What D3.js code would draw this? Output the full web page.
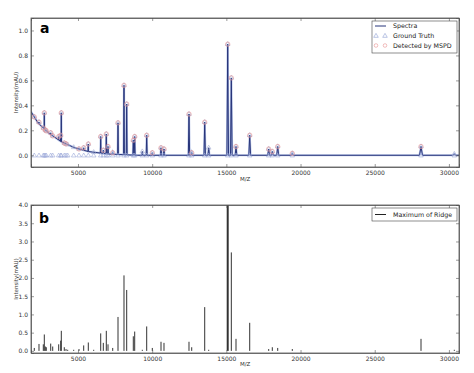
<!DOCTYPE html>
<html>
<head>
<meta charset="utf-8">
<script src="https://cdn.jsdelivr.net/npm/d3@7"></script>
<style>
  body { margin: 0; background: #fff; }
  svg text { font-family: "DejaVu Sans", sans-serif; }
</style>
</head>
<body>
<div id="chart"></div>
<script>
// peak positions (m/z)
let peakMz = [2055, 2372, 2662, 2730, 2797, 2864, 3161, 3296, 3700, 3835, 3875, 4077, 4192, 4306,
    4711, 5068, 5385, 5695, 6059, 6531, 6706, 6908, 7023, 7340, 7697, 8101, 8283, 8728, 8822,
    9335, 9631, 10009, 10595, 10797, 12482, 12665, 13541, 13810, 15091, 15334, 15650, 16574,
    17854, 18097, 18461, 19445, 28119, 30364];
// top of each peak in the spectrum, panel a (absolute intensity)
let peakTop = [0.29, 0.265, 0.2, 0.34, 0.2, 0.18, 0.18, 0.14, 0.15, 0.16, 0.34, 0.07, 0.05, 0.04,
    0.03, 0.04, 0.06, 0.09, 0.02, 0.15, 0.04, 0.17, 0.07, 0.02, 0.26, 0.56, 0.41, 0.12, 0.15,
    0.03, 0.16, 0.02, 0.06, 0.05, 0.33, 0.02, 0.265, 0.06, 0.89, 0.62, 0.07, 0.16,
    0.05, 0.03, 0.07, 0.015, 0.07, 0.01];
// maximum of ridge, panel b
let ridgeMax = [0.08, 0.19, 0.18, 0.45, 0.12, 0.10, 0.20, 0.12, 0.18, 0.28, 0.55, 0.10, 0.05, 0.03,
    0.03, 0.05, 0.15, 0.23, 0.03, 0.48, 0.22, 0.55, 0.18, 0.08, 0.93, 2.07, 1.67, 0.40, 0.53,
    0.03, 0.67, 0.08, 0.25, 0.22, 0.25, 0.10, 1.20, 0.03, 4.0, 2.70, 0.33, 0.77,
    0.05, 0.10, 0.08, 0.05, 0.33, 0.03];
// decaying baseline of the spectrum
let baseMz = [1833, 2300, 3000, 3850, 4780, 5700, 7000, 9000, 30700];
let baseVal = [0.35, 0.26, 0.18, 0.11, 0.06, 0.03, 0.01, 0, 0];

let xTicks = [5000, 10000, 15000, 20000, 25000, 30000];
let yTicksA = [0.0, 0.2, 0.4, 0.6, 0.8, 1.0];
let yTicksB = [0.0, 0.5, 1.0, 1.5, 2.0, 2.5, 3.0, 3.5, 4.0];

let svgWidth = 474, svgHeight = 373;
let left = 31, right = 459;

let svg = d3.select("#chart").append("svg")
    .attr("width", svgWidth)
    .attr("height", svgHeight);

let x = d3.scaleLinear().domain([1833, 30680]).range([left, right]);
let baseAt = d3.scaleLinear().domain(baseMz).range(baseVal).clamp(true);

function drawFrame(y, top, bottom, yTicks, mzY) {
    let g = svg.append("g");
    g.append("g").attr("transform", `translate(0,${bottom})`)
        .call(d3.axisBottom(x).tickValues(xTicks).tickSize(-3).tickPadding(4).tickFormat(d3.format("d")));
    g.append("g").attr("transform", `translate(0,${top})`)
        .call(d3.axisTop(x).tickValues(xTicks).tickSize(-3).tickFormat(""));
    g.append("g").attr("transform", `translate(${left},0)`)
        .call(d3.axisLeft(y).tickValues(yTicks).tickSize(-3).tickPadding(3).tickFormat(d3.format(".1f")));
    g.append("g").attr("transform", `translate(${right},0)`)
        .call(d3.axisRight(y).tickValues(yTicks).tickSize(-3).tickFormat(""));
    g.selectAll(".domain").attr("stroke", "#555").attr("stroke-width", 0.8);
    g.selectAll(".tick line").attr("stroke", "#555").attr("stroke-width", 0.6);
    g.selectAll(".tick text").attr("font-size", 6).attr("fill", "#333");
    g.append("rect").attr("x", left).attr("y", top).attr("width", right - left).attr("height", bottom - top)
        .attr("fill", "none").attr("stroke", "#555").attr("stroke-width", 0.8);
    g.append("text").attr("x", 240).attr("y", mzY).attr("font-size", 5.5).attr("fill", "#333").text("M/Z");
    g.append("text")
        .attr("transform", `translate(18,${(top + bottom) / 2}) rotate(-90)`)
        .attr("text-anchor", "middle").attr("font-size", 5.5).attr("fill", "#333")
        .text("Intensity(mAU)");
    return g;
}

// ---- panel a
let topA = 18, bottomA = 167;
let yA = d3.scaleLinear().domain([-0.094, 1.1]).range([bottomA, topA]);

// spectrum points: baseline knots plus a narrow triangle for each peak
let spec = baseMz.map((m, i) => [m, baseVal[i]]);
peakMz.forEach((m, i) => {
    let w = m * 0.0035;
    spec.push([m - w, baseAt(m - w)]);
    spec.push([m, Math.max(peakTop[i], baseAt(m))]);
    spec.push([m + w, baseAt(m + w)]);
});
spec.sort((a, b) => a[0] - b[0]);

svg.append("clipPath").attr("id", "clipA").append("rect")
    .attr("x", left).attr("y", topA).attr("width", right - left).attr("height", bottomA - topA);

let plotA = svg.append("g").attr("clip-path", "url(#clipA)");
let specLine = d3.line().x(d => x(d[0])).y(d => yA(d[1]));
plotA.append("path").datum(spec)
    .attr("d", specLine)
    .attr("fill", "none").attr("stroke", "#9fb0e0").attr("stroke-width", 2.2).attr("opacity", 0.7);
plotA.append("path").datum(spec)
    .attr("d", specLine)
    .attr("fill", "none").attr("stroke", "#27347a").attr("stroke-width", 1);

let tri = d3.symbol().type(d3.symbolTriangle).size(9);
// ground truth at baseline and at peak tops
plotA.selectAll(".gt0").data(peakMz).enter().append("path")
    .attr("d", tri).attr("transform", d => `translate(${x(d)},${yA(-0.003)})`)
    .attr("fill", "none").attr("stroke", "#9aa8d8").attr("stroke-width", 0.6);
plotA.selectAll(".gt1").data(peakMz).enter().append("path")
    .attr("d", tri).attr("transform", (d, i) => `translate(${x(d)},${yA(Math.max(peakTop[i], baseAt(d)))})`)
    .attr("fill", "none").attr("stroke", "#a0aad0").attr("stroke-width", 0.6);
// detected peaks
plotA.selectAll(".det").data(peakMz.filter((d, i) => ridgeMax[i] > 0.04)).enter().append("circle")
    .attr("cx", d => x(d))
    .attr("cy", d => yA(Math.max(peakTop[peakMz.indexOf(d)], baseAt(d))))
    .attr("r", 2.2)
    .attr("fill", "none").attr("stroke", "#e89090").attr("stroke-width", 0.6);

drawFrame(yA, topA, bottomA, yTicksA, 181);
svg.append("text").attr("x", 40).attr("y", 33).attr("font-size", 14).attr("font-weight", "bold").text("a");

// legend a
let lgA = svg.append("g");
lgA.append("rect").attr("x", 372).attr("y", 21).attr("width", 85).attr("height", 32)
    .attr("fill", "#fff").attr("stroke", "#444").attr("stroke-width", 0.6);
lgA.append("line").attr("x1", 375).attr("x2", 386).attr("y1", 26).attr("y2", 26)
    .attr("stroke", "#27347a").attr("stroke-width", 1);
[376, 385].forEach(px => {
    lgA.append("path").attr("d", tri).attr("transform", `translate(${px},36)`)
        .attr("fill", "none").attr("stroke", "#8f9fd4").attr("stroke-width", 0.6);
    lgA.append("circle").attr("cx", px).attr("cy", 45.5).attr("r", 1.8)
        .attr("fill", "none").attr("stroke", "#e89090").attr("stroke-width", 0.6);
});
[["Spectra", 28.3], ["Ground Truth", 38], ["Detected by MSPD", 47.7]].forEach(t => {
    lgA.append("text").attr("x", 393).attr("y", t[1]).attr("font-size", 6.3).attr("fill", "#222").text(t[0]);
});

// ---- panel b
let topB = 205, bottomB = 353;
let yB = d3.scaleLinear().domain([-0.058, 4.0]).range([bottomB, topB]);

svg.append("g").selectAll("line").data(peakMz).enter().append("line")
    .attr("x1", d => x(d)).attr("x2", d => x(d))
    .attr("y1", yB(0)).attr("y2", (d, i) => yB(ridgeMax[i]))
    .attr("stroke", "#333").attr("stroke-width", (d, i) => ridgeMax[i] > 3 ? 2 : 1);

drawFrame(yB, topB, bottomB, yTicksB, 366);
svg.append("text").attr("x", 39).attr("y", 223).attr("font-size", 14).attr("font-weight", "bold").text("b");

let lgB = svg.append("g");
lgB.append("rect").attr("x", 372).attr("y", 208).attr("width", 85).attr("height", 13)
    .attr("fill", "#fff").attr("stroke", "#444").attr("stroke-width", 0.6);
lgB.append("line").attr("x1", 375).attr("x2", 386).attr("y1", 214.5).attr("y2", 214.5)
    .attr("stroke", "#222").attr("stroke-width", 1);
lgB.append("text").attr("x", 393).attr("y", 216.8).attr("font-size", 6.3).attr("fill", "#222").text("Maximum of Ridge");
</script>
</body>
</html>
